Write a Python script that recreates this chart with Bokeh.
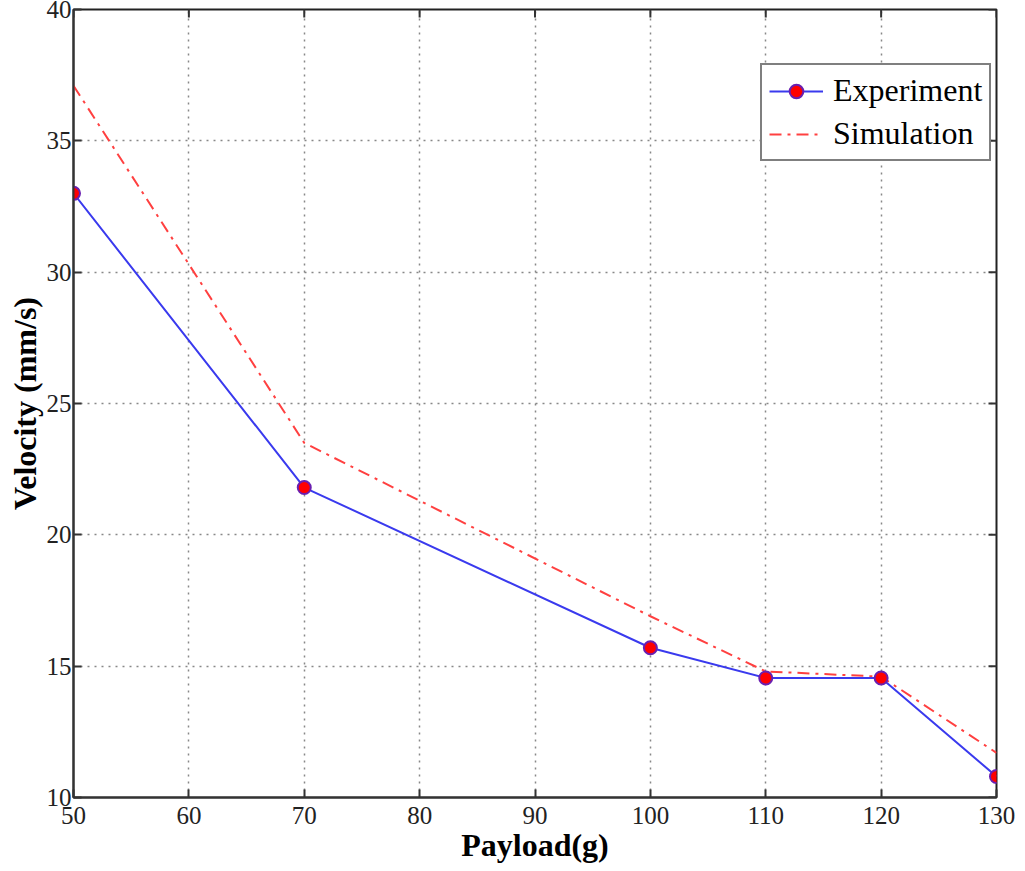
import math
from bokeh.plotting import figure
from bokeh.models import FixedTicker, Legend, LegendItem, Range1d
from bokeh.embed import file_html
from bokeh.resources import INLINE

# Payload (g) vs. velocity (mm/s)
payload = [50, 70, 100, 110, 120, 130]
velocity_experiment = [33.0, 21.8, 15.7, 14.55, 14.55, 10.8]
velocity_simulation = [37.1, 23.5, 16.9, 14.8, 14.6, 11.7]

x_ticks = [50, 60, 70, 80, 90, 100, 110, 120, 130]
y_ticks = [10, 15, 20, 25, 30, 35, 40]

SERIF = "Liberation Serif"
X_MIN, X_MAX = 50, 130
Y_MIN, Y_MAX = 10, 40

p = figure(width=1025, height=871, output_backend="svg", toolbar_location=None,
           x_range=Range1d(X_MIN, X_MAX), y_range=Range1d(Y_MIN, Y_MAX),
           min_border_left=73, min_border_right=29, min_border_top=9, min_border_bottom=74)

p.background_fill_color = "white"
p.border_fill_color = "white"
p.outline_line_color = "#222222"
p.outline_line_width = 2

xa = p.xaxis[0]
ya = p.yaxis[0]
xa.ticker = FixedTicker(ticks=x_ticks)
ya.ticker = FixedTicker(ticks=y_ticks)
for ax in (xa, ya):
    ax.axis_line_color = "#333333"
    ax.axis_line_width = 2
    ax.major_tick_in = 8
    ax.major_tick_out = 0
    ax.major_tick_line_color = "#333333"
    ax.major_tick_line_width = 2
    ax.minor_tick_line_color = None
    ax.major_label_text_font = SERIF
    ax.major_label_text_font_size = "25px"
    ax.major_label_text_color = "#222222"
    ax.axis_label_text_font = SERIF
    ax.axis_label_text_font_style = "bold"
    ax.axis_label_text_font_size = "32px"
    ax.axis_label_text_color = "black"
xa.major_label_standoff = 9
ya.major_label_standoff = 2
xa.axis_label = "Payload(g)"
ya.axis_label = "Velocity (mm/s)"
xa.axis_label_standoff = 0
ya.axis_label_standoff = 1

p.xgrid.ticker = FixedTicker(ticks=x_ticks)
p.ygrid.ticker = FixedTicker(ticks=y_ticks)
p.grid.grid_line_color = "#888888"
p.grid.grid_line_dash = "2 5"
p.grid.grid_line_width = 1.5

# mirrored inward ticks on the top and right edges of the box
# (dash markers centred on the edge; the outer half is clipped by the frame)
p.scatter(x_ticks, [Y_MAX] * len(x_ticks), marker="dash", size=16, angle=math.pi / 2,
          line_color="#333333", line_width=2)
p.scatter([X_MAX] * len(y_ticks), y_ticks, marker="dash", size=16,
          line_color="#333333", line_width=2)

sim = p.line(payload, velocity_simulation, line_color="#ff4040", line_width=2,
             line_dash="12 6 3 6")
exp_line = p.line(payload, velocity_experiment, line_color="#3a3aee", line_width=2)
exp_pts = p.scatter(payload, velocity_experiment, size=13, fill_color="#ff0000",
                    line_color="#6a1fb0", line_width=2)

legend = Legend(items=[
    LegendItem(label="Experiment", renderers=[exp_line, exp_pts]),
    LegendItem(label="Simulation", renderers=[sim]),
], location=(687, 636))
legend.label_text_font = SERIF
legend.label_text_font_size = "32px"
legend.label_text_color = "black"
legend.glyph_width = 54
legend.glyph_height = 34
legend.label_height = 34
legend.label_standoff = 10
legend.spacing = 6
legend.padding = 7
legend.margin = 0
legend.border_line_color = "black"
legend.border_line_width = 2
legend.background_fill_alpha = 1
p.add_layout(legend, "center")

open("out.html", "w").write(file_html(p, INLINE))
